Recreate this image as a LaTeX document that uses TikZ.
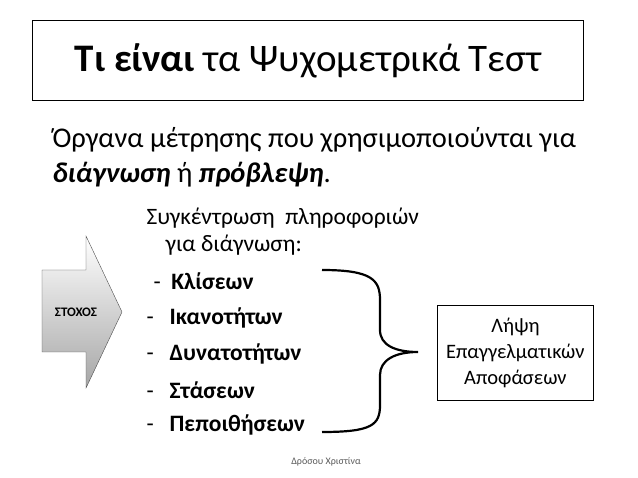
\documentclass[tikz,border=0pt]{standalone}
\usepackage{fontspec}
\setmainfont{Carlito}
\usetikzlibrary{shapes.arrows, positioning}
\tikzset{
    titlebox/.style = {draw, line width=1.2pt, minimum width=551pt, minimum height=80pt, anchor=north west,
        font=\fontsize{39}{44}\selectfont},
    bodytext/.style = {anchor=west, font=\fontsize{28.5}{32}\selectfont},
    listtext/.style = {anchor=west, font=\fontsize{23.5}{27}\selectfont},
    decision/.style = {draw, thick, minimum width=156pt, minimum height=95pt, anchor=north west,
        align=center, font=\fontsize{20.5}{26}\selectfont},
}
\begin{document}
\begin{tikzpicture}[x=1pt, y=-1pt]
    \useasboundingbox (0,0) rectangle (638,478);
    % Title
    \node[titlebox] (title) at (32,20) {\textbf{Τι είναι} τα Ψυχομετρικά Τεστ};
    % Introduction
    \node[bodytext] (intro1) at (49,140) {Όργανα μέτρησης που χρησιμοποιούνται για};
    \node[bodytext] (intro2) at (49,175) {\textbf{\textit{διάγνωση}} ή \textbf{\textit{πρόβλεψη}}.};
    % List
    \node[listtext] (head1) at (143,218) {Συγκέντρωση\ \ πληροφοριών};
    \node[listtext] (head2) at (162,245) {για διάγνωση:};
    \node[listtext] (l1) at (150,281) {- \ \textbf{Κλίσεων}};
    \node[listtext] (l2) at (143,318) {- \ \ \textbf{Ικανοτήτων}};
    \node[listtext] (l3) at (143,354) {- \ \ \textbf{Δυνατοτήτων}};
    \node[listtext] (l4) at (143,390) {- \ \ \textbf{Στάσεων}};
    \node[listtext] (l5) at (143,425) {- \ \ \textbf{Πεποιθήσεων}};
    % Goal arrow
    \shade[top color=white, bottom color=gray!70, draw=gray!60!black]
        (42,270) -- (86,270) -- (86,236) -- (122,312) -- (86,388) -- (86,352) -- (42,352) -- cycle;
    \node[font=\fontsize{13}{15}\selectfont\bfseries] (goal) at (76,312) {ΣΤΟΧΟΣ};
    % Brace
    \draw[line width=2.2pt] (322,270) .. controls (372,270) and (380,280) .. (380,300)
        -- (380,330) .. controls (380,345) and (395,352) .. (418,352)
        .. controls (395,352) and (380,360) .. (380,375)
        -- (380,405) .. controls (380,425) and (372,432) .. (322,432);
    \coordinate (tip) at (418,352);
    % Decision
    \node[decision] (decide) at (437,305) {Λήψη\\Επαγγελματικών\\Αποφάσεων};
    % Footer
    \node[font=\fontsize{10}{12}\selectfont, text=gray!70!black] (author) at (326,462) {Δρόσου Χριστίνα};
\end{tikzpicture}
\end{document}
